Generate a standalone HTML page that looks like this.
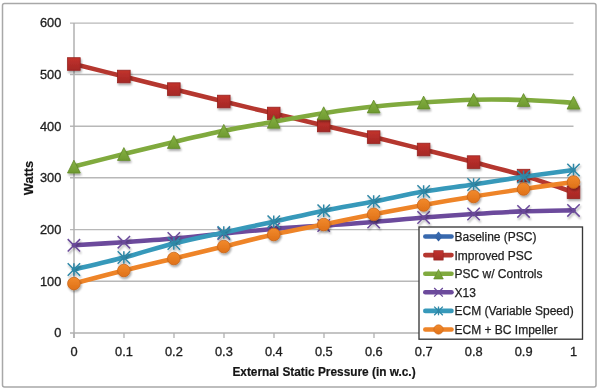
<!DOCTYPE html>
<html><head><meta charset="utf-8"><style>
html,body{margin:0;padding:0;background:#fff;width:600px;height:391px;overflow:hidden}
svg{display:block;will-change:transform}
.t{font-family:"Liberation Sans",sans-serif;font-size:12px;fill:#1e1e1e;stroke:#1e1e1e;stroke-width:0.25px}
.d{stroke-width:0.3px}
.tb{font-family:"Liberation Sans",sans-serif;font-size:12px;font-weight:bold;fill:#151515;stroke:#151515;stroke-width:0.2px}
</style></head><body>
<svg width="600" height="391" viewBox="0 0 600 391">
<defs><linearGradient id="g_red" x1="0" y1="0" x2="0" y2="1"><stop offset="0" stop-color="#C2322D"/><stop offset="1" stop-color="#A42825"/></linearGradient><linearGradient id="g_green" x1="0" y1="0" x2="0" y2="1"><stop offset="0" stop-color="#86B244"/><stop offset="1" stop-color="#6F9A30"/></linearGradient><linearGradient id="g_purple" x1="0" y1="0" x2="0" y2="1"><stop offset="0" stop-color="#6C4A9C"/><stop offset="1" stop-color="#6C4A9C"/></linearGradient><linearGradient id="g_teal" x1="0" y1="0" x2="0" y2="1"><stop offset="0" stop-color="#3799BA"/><stop offset="1" stop-color="#3799BA"/></linearGradient><linearGradient id="g_orange" x1="0" y1="0" x2="0" y2="1"><stop offset="0" stop-color="#F28A2C"/><stop offset="1" stop-color="#DF7118"/></linearGradient><linearGradient id="g_blue" x1="0" y1="0" x2="0" y2="1"><stop offset="0" stop-color="#3B6DB3"/><stop offset="1" stop-color="#305EA0"/></linearGradient><filter id="sh" x="-50%" y="-50%" width="200%" height="220%"><feGaussianBlur in="SourceAlpha" stdDeviation="1.2"/><feOffset dx="0.5" dy="2" result="o"/><feComponentTransfer><feFuncA type="linear" slope="0.35"/></feComponentTransfer><feMerge><feMergeNode/><feMergeNode in="SourceGraphic"/></feMerge></filter></defs>
<rect width="600" height="391" fill="#fff"/>
<rect x="2.5" y="3.5" width="593.5" height="383.5" rx="2" fill="none" stroke="#A8A8A8" stroke-width="1.5"/>
<line x1="70" y1="23.1" x2="573.5" y2="23.1" stroke="#B8B8B8" stroke-width="1.45"/>
<line x1="70" y1="74.4" x2="573.5" y2="74.4" stroke="#B8B8B8" stroke-width="1.45"/>
<line x1="70" y1="126.3" x2="573.5" y2="126.3" stroke="#B8B8B8" stroke-width="1.45"/>
<line x1="70" y1="177.7" x2="573.5" y2="177.7" stroke="#B8B8B8" stroke-width="1.45"/>
<line x1="70" y1="229.6" x2="573.5" y2="229.6" stroke="#B8B8B8" stroke-width="1.45"/>
<line x1="70" y1="281.2" x2="573.5" y2="281.2" stroke="#B8B8B8" stroke-width="1.45"/>
<line x1="70" y1="333.0" x2="573.5" y2="333.0" stroke="#B0B0B0" stroke-width="1.6"/>
<line x1="74" y1="23" x2="74" y2="338" stroke="#B0B0B0" stroke-width="1.5"/>
<line x1="74" y1="333" x2="74" y2="338" stroke="#B0B0B0" stroke-width="1.3"/>
<line x1="124" y1="333" x2="124" y2="338" stroke="#B0B0B0" stroke-width="1.3"/>
<line x1="174" y1="333" x2="174" y2="338" stroke="#B0B0B0" stroke-width="1.3"/>
<line x1="224" y1="333" x2="224" y2="338" stroke="#B0B0B0" stroke-width="1.3"/>
<line x1="274" y1="333" x2="274" y2="338" stroke="#B0B0B0" stroke-width="1.3"/>
<line x1="324" y1="333" x2="324" y2="338" stroke="#B0B0B0" stroke-width="1.3"/>
<line x1="374" y1="333" x2="374" y2="338" stroke="#B0B0B0" stroke-width="1.3"/>
<line x1="424" y1="333" x2="424" y2="338" stroke="#B0B0B0" stroke-width="1.3"/>
<line x1="474" y1="333" x2="474" y2="338" stroke="#B0B0B0" stroke-width="1.3"/>
<line x1="524" y1="333" x2="524" y2="338" stroke="#B0B0B0" stroke-width="1.3"/>
<line x1="574" y1="333" x2="574" y2="338" stroke="#B0B0B0" stroke-width="1.3"/>
<text transform="translate(61.3,27.4) scale(1.07,1)" text-anchor="end" class="t d">600</text>
<text transform="translate(61.3,78.7) scale(1.07,1)" text-anchor="end" class="t d">500</text>
<text transform="translate(61.3,130.6) scale(1.07,1)" text-anchor="end" class="t d">400</text>
<text transform="translate(61.3,182.0) scale(1.07,1)" text-anchor="end" class="t d">300</text>
<text transform="translate(61.3,233.9) scale(1.07,1)" text-anchor="end" class="t d">200</text>
<text transform="translate(61.3,285.5) scale(1.07,1)" text-anchor="end" class="t d">100</text>
<text transform="translate(61.3,337.3) scale(1.07,1)" text-anchor="end" class="t d">0</text>
<text transform="translate(74.0,355.7) scale(1.07,1)" text-anchor="middle" class="t d">0</text>
<text transform="translate(124.0,355.7) scale(1.07,1)" text-anchor="middle" class="t d">0.1</text>
<text transform="translate(173.9,355.7) scale(1.07,1)" text-anchor="middle" class="t d">0.2</text>
<text transform="translate(223.9,355.7) scale(1.07,1)" text-anchor="middle" class="t d">0.3</text>
<text transform="translate(273.8,355.7) scale(1.07,1)" text-anchor="middle" class="t d">0.4</text>
<text transform="translate(323.8,355.7) scale(1.07,1)" text-anchor="middle" class="t d">0.5</text>
<text transform="translate(373.8,355.7) scale(1.07,1)" text-anchor="middle" class="t d">0.6</text>
<text transform="translate(423.7,355.7) scale(1.07,1)" text-anchor="middle" class="t d">0.7</text>
<text transform="translate(473.7,355.7) scale(1.07,1)" text-anchor="middle" class="t d">0.8</text>
<text transform="translate(523.6,355.7) scale(1.07,1)" text-anchor="middle" class="t d">0.9</text>
<text transform="translate(573.6,355.7) scale(1.07,1)" text-anchor="middle" class="t d">1</text>
<text x="324" y="375.6" text-anchor="middle" class="tb" style="font-size:11.85px">External Static Pressure (in w.c.)</text>
<text transform="translate(32.8,178) rotate(-90)" x="0" y="0" text-anchor="middle" class="tb" style="font-size:12.8px">Watts</text>
<path d="M73.90,64.00 C82.23,66.08 107.21,72.32 123.86,76.50 C140.51,80.68 157.17,84.93 173.82,89.10 C190.47,93.27 207.13,97.43 223.78,101.50 C240.43,105.57 257.09,109.50 273.74,113.50 C290.39,117.50 307.05,121.57 323.70,125.50 C340.35,129.43 357.01,133.10 373.66,137.10 C390.31,141.10 406.97,145.33 423.62,149.50 C440.27,153.67 456.93,157.75 473.58,162.10 C490.23,166.45 506.89,170.58 523.54,175.60 C540.19,180.62 565.17,189.43 573.50,192.20" fill="none" stroke="#B5372F" stroke-width="4.6" stroke-linejoin="round" stroke-linecap="round"/>
<g filter="url(#sh)"><rect x="67.60" y="57.70" width="12.6" height="12.6" fill="url(#g_red)" stroke="#962420" stroke-width="0.8"/><rect x="117.56" y="70.20" width="12.6" height="12.6" fill="url(#g_red)" stroke="#962420" stroke-width="0.8"/><rect x="167.52" y="82.80" width="12.6" height="12.6" fill="url(#g_red)" stroke="#962420" stroke-width="0.8"/><rect x="217.48" y="95.20" width="12.6" height="12.6" fill="url(#g_red)" stroke="#962420" stroke-width="0.8"/><rect x="267.44" y="107.20" width="12.6" height="12.6" fill="url(#g_red)" stroke="#962420" stroke-width="0.8"/><rect x="317.40" y="119.20" width="12.6" height="12.6" fill="url(#g_red)" stroke="#962420" stroke-width="0.8"/><rect x="367.36" y="130.80" width="12.6" height="12.6" fill="url(#g_red)" stroke="#962420" stroke-width="0.8"/><rect x="417.32" y="143.20" width="12.6" height="12.6" fill="url(#g_red)" stroke="#962420" stroke-width="0.8"/><rect x="467.28" y="155.80" width="12.6" height="12.6" fill="url(#g_red)" stroke="#962420" stroke-width="0.8"/><rect x="517.24" y="169.30" width="12.6" height="12.6" fill="url(#g_red)" stroke="#962420" stroke-width="0.8"/><rect x="567.20" y="185.90" width="12.6" height="12.6" fill="url(#g_red)" stroke="#962420" stroke-width="0.8"/></g>
<path d="M73.90,166.60 C82.23,164.50 107.21,158.10 123.86,154.00 C140.51,149.90 157.17,145.87 173.82,142.00 C190.47,138.13 207.13,134.17 223.78,130.80 C240.43,127.43 257.09,124.73 273.74,121.80 C290.39,118.87 307.05,115.75 323.70,113.20 C340.35,110.65 357.01,108.28 373.66,106.50 C390.31,104.72 406.97,103.63 423.62,102.50 C440.27,101.37 456.93,100.12 473.58,99.70 C490.23,99.28 506.89,99.50 523.54,100.00 C540.19,100.50 565.17,102.25 573.50,102.70" fill="none" stroke="#80AA3E" stroke-width="4.6" stroke-linejoin="round" stroke-linecap="round"/>
<g filter="url(#sh)"><path d="M73.90,160.20 L80.30,173.00 L67.50,173.00 Z" fill="url(#g_green)" stroke="#628A2A" stroke-width="0.8" stroke-linejoin="round"/><path d="M123.86,147.60 L130.26,160.40 L117.46,160.40 Z" fill="url(#g_green)" stroke="#628A2A" stroke-width="0.8" stroke-linejoin="round"/><path d="M173.82,135.60 L180.22,148.40 L167.42,148.40 Z" fill="url(#g_green)" stroke="#628A2A" stroke-width="0.8" stroke-linejoin="round"/><path d="M223.78,124.40 L230.18,137.20 L217.38,137.20 Z" fill="url(#g_green)" stroke="#628A2A" stroke-width="0.8" stroke-linejoin="round"/><path d="M273.74,115.40 L280.14,128.20 L267.34,128.20 Z" fill="url(#g_green)" stroke="#628A2A" stroke-width="0.8" stroke-linejoin="round"/><path d="M323.70,106.80 L330.10,119.60 L317.30,119.60 Z" fill="url(#g_green)" stroke="#628A2A" stroke-width="0.8" stroke-linejoin="round"/><path d="M373.66,100.10 L380.06,112.90 L367.26,112.90 Z" fill="url(#g_green)" stroke="#628A2A" stroke-width="0.8" stroke-linejoin="round"/><path d="M423.62,96.10 L430.02,108.90 L417.22,108.90 Z" fill="url(#g_green)" stroke="#628A2A" stroke-width="0.8" stroke-linejoin="round"/><path d="M473.58,93.30 L479.98,106.10 L467.18,106.10 Z" fill="url(#g_green)" stroke="#628A2A" stroke-width="0.8" stroke-linejoin="round"/><path d="M523.54,93.60 L529.94,106.40 L517.14,106.40 Z" fill="url(#g_green)" stroke="#628A2A" stroke-width="0.8" stroke-linejoin="round"/><path d="M573.50,96.30 L579.90,109.10 L567.10,109.10 Z" fill="url(#g_green)" stroke="#628A2A" stroke-width="0.8" stroke-linejoin="round"/></g>
<path d="M73.90,245.30 C82.23,244.78 107.21,243.33 123.86,242.20 C140.51,241.07 157.17,239.95 173.82,238.50 C190.47,237.05 207.13,235.08 223.78,233.50 C240.43,231.92 257.09,230.33 273.74,229.00 C290.39,227.67 307.05,226.67 323.70,225.50 C340.35,224.33 357.01,223.33 373.66,222.00 C390.31,220.67 406.97,218.83 423.62,217.50 C440.27,216.17 456.93,215.02 473.58,214.00 C490.23,212.98 506.89,212.00 523.54,211.40 C540.19,210.80 565.17,210.57 573.50,210.40" fill="none" stroke="#6C4A9C" stroke-width="4.6" stroke-linejoin="round" stroke-linecap="round"/>
<g filter="url(#sh)"><path d="M67.70,239.10 L80.10,251.50 M80.10,239.10 L67.70,251.50" stroke="#6A4A9A" stroke-width="1.5" fill="none"/><path d="M117.66,236.00 L130.06,248.40 M130.06,236.00 L117.66,248.40" stroke="#6A4A9A" stroke-width="1.5" fill="none"/><path d="M167.62,232.30 L180.02,244.70 M180.02,232.30 L167.62,244.70" stroke="#6A4A9A" stroke-width="1.5" fill="none"/><path d="M217.58,227.30 L229.98,239.70 M229.98,227.30 L217.58,239.70" stroke="#6A4A9A" stroke-width="1.5" fill="none"/><path d="M267.54,222.80 L279.94,235.20 M279.94,222.80 L267.54,235.20" stroke="#6A4A9A" stroke-width="1.5" fill="none"/><path d="M317.50,219.30 L329.90,231.70 M329.90,219.30 L317.50,231.70" stroke="#6A4A9A" stroke-width="1.5" fill="none"/><path d="M367.46,215.80 L379.86,228.20 M379.86,215.80 L367.46,228.20" stroke="#6A4A9A" stroke-width="1.5" fill="none"/><path d="M417.42,211.30 L429.82,223.70 M429.82,211.30 L417.42,223.70" stroke="#6A4A9A" stroke-width="1.5" fill="none"/><path d="M467.38,207.80 L479.78,220.20 M479.78,207.80 L467.38,220.20" stroke="#6A4A9A" stroke-width="1.5" fill="none"/><path d="M517.34,205.20 L529.74,217.60 M529.74,205.20 L517.34,217.60" stroke="#6A4A9A" stroke-width="1.5" fill="none"/><path d="M567.30,204.20 L579.70,216.60 M579.70,204.20 L567.30,216.60" stroke="#6A4A9A" stroke-width="1.5" fill="none"/></g>
<path d="M73.90,269.50 C82.23,267.50 107.21,261.83 123.86,257.50 C140.51,253.17 157.17,247.67 173.82,243.50 C190.47,239.33 207.13,236.13 223.78,232.50 C240.43,228.87 257.09,225.33 273.74,221.70 C290.39,218.07 307.05,214.07 323.70,210.70 C340.35,207.33 357.01,204.70 373.66,201.50 C390.31,198.30 406.97,194.33 423.62,191.50 C440.27,188.67 456.93,186.95 473.58,184.50 C490.23,182.05 506.89,179.22 523.54,176.80 C540.19,174.38 565.17,171.13 573.50,170.00" fill="none" stroke="#3799BA" stroke-width="4.6" stroke-linejoin="round" stroke-linecap="round"/>
<g filter="url(#sh)"><path d="M67.70,263.30 L80.10,275.70 M80.10,263.30 L67.70,275.70 M73.90,263.30 L73.90,275.70" stroke="#2E87A6" stroke-width="1.5" fill="none"/><path d="M117.66,251.30 L130.06,263.70 M130.06,251.30 L117.66,263.70 M123.86,251.30 L123.86,263.70" stroke="#2E87A6" stroke-width="1.5" fill="none"/><path d="M167.62,237.30 L180.02,249.70 M180.02,237.30 L167.62,249.70 M173.82,237.30 L173.82,249.70" stroke="#2E87A6" stroke-width="1.5" fill="none"/><path d="M217.58,226.30 L229.98,238.70 M229.98,226.30 L217.58,238.70 M223.78,226.30 L223.78,238.70" stroke="#2E87A6" stroke-width="1.5" fill="none"/><path d="M267.54,215.50 L279.94,227.90 M279.94,215.50 L267.54,227.90 M273.74,215.50 L273.74,227.90" stroke="#2E87A6" stroke-width="1.5" fill="none"/><path d="M317.50,204.50 L329.90,216.90 M329.90,204.50 L317.50,216.90 M323.70,204.50 L323.70,216.90" stroke="#2E87A6" stroke-width="1.5" fill="none"/><path d="M367.46,195.30 L379.86,207.70 M379.86,195.30 L367.46,207.70 M373.66,195.30 L373.66,207.70" stroke="#2E87A6" stroke-width="1.5" fill="none"/><path d="M417.42,185.30 L429.82,197.70 M429.82,185.30 L417.42,197.70 M423.62,185.30 L423.62,197.70" stroke="#2E87A6" stroke-width="1.5" fill="none"/><path d="M467.38,178.30 L479.78,190.70 M479.78,178.30 L467.38,190.70 M473.58,178.30 L473.58,190.70" stroke="#2E87A6" stroke-width="1.5" fill="none"/><path d="M517.34,170.60 L529.74,183.00 M529.74,170.60 L517.34,183.00 M523.54,170.60 L523.54,183.00" stroke="#2E87A6" stroke-width="1.5" fill="none"/><path d="M567.30,163.80 L579.70,176.20 M579.70,163.80 L567.30,176.20 M573.50,163.80 L573.50,176.20" stroke="#2E87A6" stroke-width="1.5" fill="none"/></g>
<path d="M73.90,283.50 C82.23,281.33 107.21,274.67 123.86,270.50 C140.51,266.33 157.17,262.50 173.82,258.50 C190.47,254.50 207.13,250.50 223.78,246.50 C240.43,242.50 257.09,238.17 273.74,234.50 C290.39,230.83 307.05,227.87 323.70,224.50 C340.35,221.13 357.01,217.55 373.66,214.30 C390.31,211.05 406.97,207.97 423.62,205.00 C440.27,202.03 456.93,199.17 473.58,196.50 C490.23,193.83 506.89,191.42 523.54,189.00 C540.19,186.58 565.17,183.17 573.50,182.00" fill="none" stroke="#EE8428" stroke-width="4.6" stroke-linejoin="round" stroke-linecap="round"/>
<g filter="url(#sh)"><circle cx="73.90" cy="283.50" r="6.3" fill="url(#g_orange)" stroke="#C9661A" stroke-width="0.8"/><circle cx="123.86" cy="270.50" r="6.3" fill="url(#g_orange)" stroke="#C9661A" stroke-width="0.8"/><circle cx="173.82" cy="258.50" r="6.3" fill="url(#g_orange)" stroke="#C9661A" stroke-width="0.8"/><circle cx="223.78" cy="246.50" r="6.3" fill="url(#g_orange)" stroke="#C9661A" stroke-width="0.8"/><circle cx="273.74" cy="234.50" r="6.3" fill="url(#g_orange)" stroke="#C9661A" stroke-width="0.8"/><circle cx="323.70" cy="224.50" r="6.3" fill="url(#g_orange)" stroke="#C9661A" stroke-width="0.8"/><circle cx="373.66" cy="214.30" r="6.3" fill="url(#g_orange)" stroke="#C9661A" stroke-width="0.8"/><circle cx="423.62" cy="205.00" r="6.3" fill="url(#g_orange)" stroke="#C9661A" stroke-width="0.8"/><circle cx="473.58" cy="196.50" r="6.3" fill="url(#g_orange)" stroke="#C9661A" stroke-width="0.8"/><circle cx="523.54" cy="189.00" r="6.3" fill="url(#g_orange)" stroke="#C9661A" stroke-width="0.8"/><circle cx="573.50" cy="182.00" r="6.3" fill="url(#g_orange)" stroke="#C9661A" stroke-width="0.8"/></g>
<rect x="419.0" y="227.0" width="163.5" height="112.2" fill="#fff" stroke="#383838" stroke-width="1.35"/>
<line x1="425.3" y1="236.50" x2="451.5" y2="236.50" stroke="#3869AE" stroke-width="4.6" stroke-linecap="round"/>
<path d="M438.50,231.40 L442.80,236.50 L438.50,241.60 L434.20,236.50 Z" fill="url(#g_blue)"/>
<text x="454.5" y="240.90" class="t">Baseline (PSC)</text>
<line x1="425.3" y1="255.10" x2="451.5" y2="255.10" stroke="#B5372F" stroke-width="4.6" stroke-linecap="round"/>
<rect x="433.80" y="250.70" width="9.4" height="9.4" fill="url(#g_red)" stroke="#962420" stroke-width="0.6"/>
<text x="454.5" y="259.50" class="t">Improved PSC</text>
<line x1="425.3" y1="273.70" x2="451.5" y2="273.70" stroke="#80AA3E" stroke-width="4.6" stroke-linecap="round"/>
<path d="M438.50,269.40 L443.30,279.00 L433.70,279.00 Z" fill="url(#g_green)" stroke="#628A2A" stroke-width="0.6" stroke-linejoin="round"/>
<text x="454.5" y="278.10" class="t">PSC w/ Controls</text>
<line x1="425.3" y1="292.30" x2="451.5" y2="292.30" stroke="#6C4A9C" stroke-width="4.6" stroke-linecap="round"/>
<path d="M434.20,288.00 L442.80,296.60 M442.80,288.00 L434.20,296.60" stroke="#6A4A9A" stroke-width="1.3" fill="none"/>
<text x="454.5" y="296.70" class="t">X13</text>
<line x1="425.3" y1="310.90" x2="451.5" y2="310.90" stroke="#3799BA" stroke-width="4.6" stroke-linecap="round"/>
<path d="M434.20,306.60 L442.80,315.20 M442.80,306.60 L434.20,315.20 M438.50,306.60 L438.50,315.20" stroke="#2E87A6" stroke-width="1.3" fill="none"/>
<text x="454.5" y="315.30" class="t">ECM (Variable Speed)</text>
<line x1="425.3" y1="329.50" x2="451.5" y2="329.50" stroke="#EE8428" stroke-width="4.6" stroke-linecap="round"/>
<circle cx="438.50" cy="329.50" r="4.7" fill="url(#g_orange)" stroke="#C9661A" stroke-width="0.6"/>
<text x="454.5" y="333.90" class="t">ECM + BC Impeller</text>
</svg>
</body></html>
